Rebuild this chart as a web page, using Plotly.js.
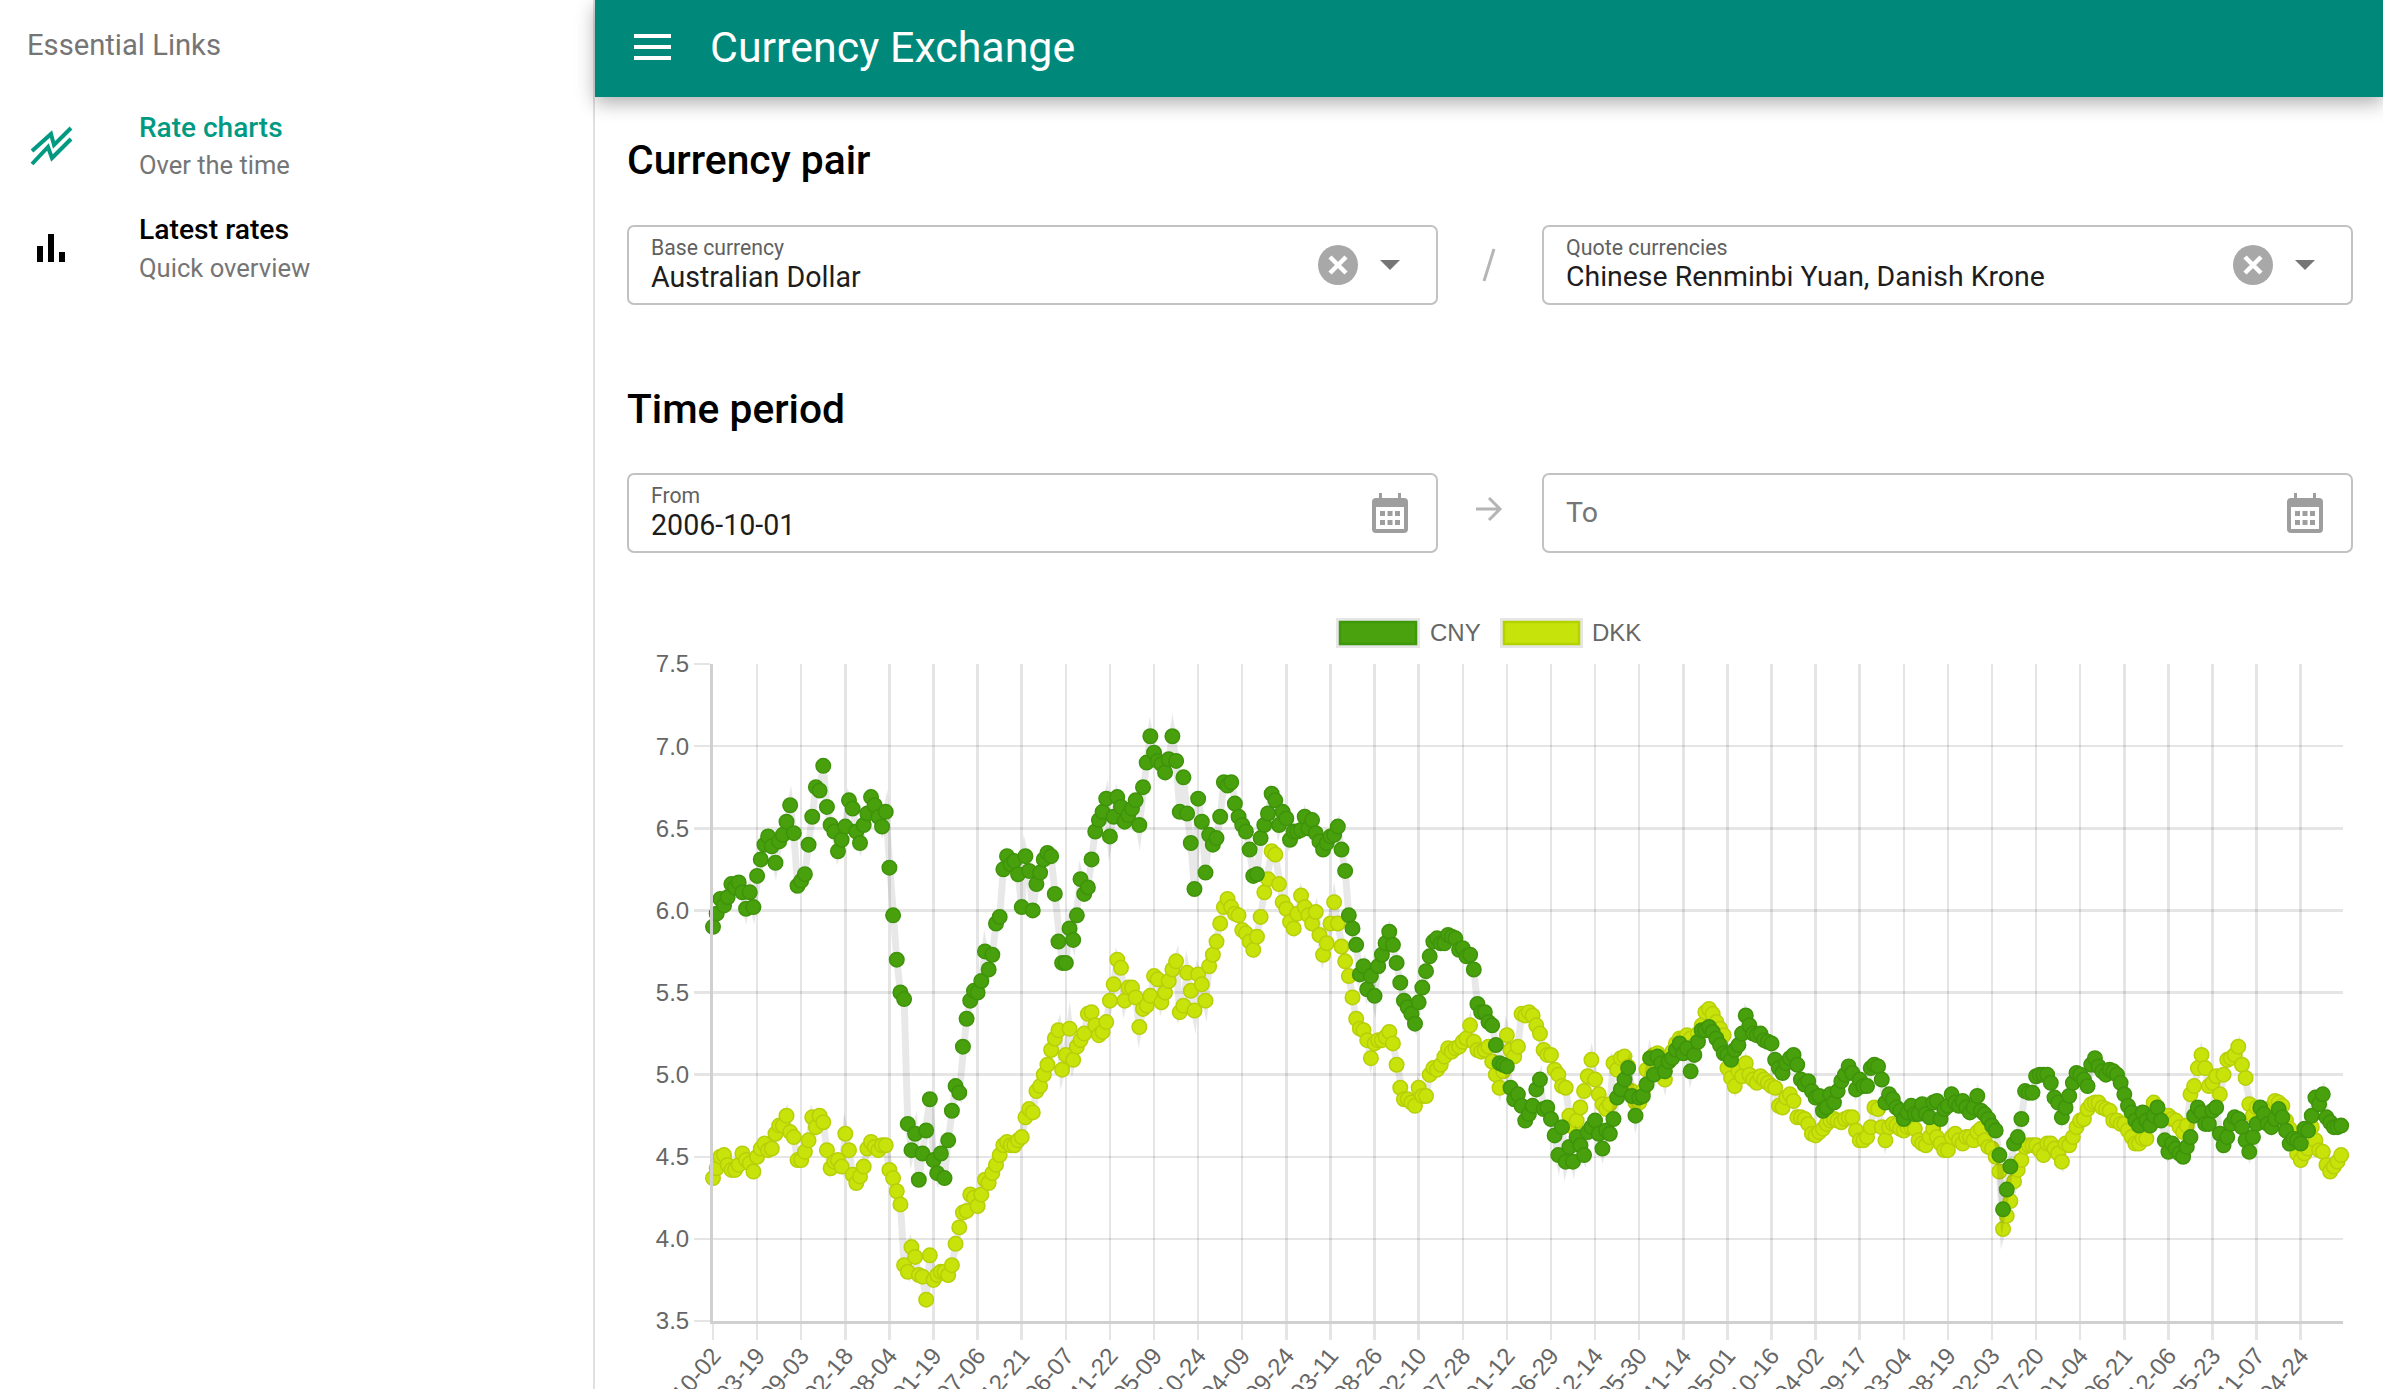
<!DOCTYPE html>
<html><head><meta charset="utf-8">
<script src="https://cdn.plot.ly/plotly-3.0.1.min.js"></script>
<style>
html,body{margin:0;padding:0;width:2383px;height:1389px;overflow:hidden;background:#fff;font-family:Roboto,sans-serif}
.t{position:absolute;white-space:nowrap;line-height:1;transform:translateY(-50%)}
.box{position:absolute;box-sizing:border-box;border:2.5px solid #c2c2c2;border-radius:7px;background:#fff}
svg.i{position:absolute;overflow:visible}
#chart{position:absolute;left:560px;top:600px;width:1823px;height:900px}
#chart .js-line{stroke-linejoin:miter !important;stroke-miterlimit:8}
</style></head><body>
<div style="position:absolute;left:593px;top:0;width:2px;height:1389px;background:#e0e0e0"></div>
<div id="chart"></div>
<div style="position:absolute;left:595px;top:0;width:1788px;height:97px;background:#00897b;box-shadow:0 6px 18px rgba(0,0,0,.32)"></div>
<svg class="i" style="left:634px;top:33px" width="38" height="28"><rect x="0" y="1" width="37" height="4" fill="#fff"/><rect x="0" y="12" width="37" height="4" fill="#fff"/><rect x="0" y="23" width="37" height="4" fill="#fff"/></svg>
<div class="t" style="left:710px;top:47px;font-size:42.9px;color:#fff">Currency Exchange</div>
<div class="t" style="left:27px;top:46px;font-size:29.2px;color:#757575">Essential Links</div>
<svg class="i" style="left:30px;top:126px" width="44" height="42"><path d="M2 25 L21 8 L24 19 L41 2 M2 38 L18 21 L22 32 L41 13" fill="none" stroke="#009a83" stroke-width="4"/></svg>
<div class="t" style="left:139px;top:128px;font-size:28px;font-weight:500;color:#009a83">Rate charts</div>
<div class="t" style="left:139px;top:166px;font-size:25.5px;color:#757575">Over the time</div>
<svg class="i" style="left:36px;top:234px" width="30" height="28"><rect x="1" y="12" width="6" height="16" fill="#000"/><rect x="12" y="0" width="6" height="28" fill="#000"/><rect x="23" y="18" width="6" height="10" fill="#000"/></svg>
<div class="t" style="left:139px;top:230px;font-size:28.3px;font-weight:500;color:#000">Latest rates</div>
<div class="t" style="left:139px;top:269px;font-size:25.6px;color:#757575">Quick overview</div>
<div class="t" style="left:627px;top:160px;font-size:40.8px;font-weight:500;color:#000">Currency pair</div>
<div class="t" style="left:627px;top:409px;font-size:40.7px;font-weight:500;color:#000">Time period</div>
<div class="box" style="left:627px;top:225px;width:811px;height:80px"></div>
<div class="box" style="left:1542px;top:225px;width:811px;height:80px"></div>
<div class="box" style="left:627px;top:473px;width:811px;height:80px"></div>
<div class="box" style="left:1542px;top:473px;width:811px;height:80px"></div>
<div class="t" style="left:651px;top:248px;font-size:21.2px;color:#616161">Base currency</div>
<div class="t" style="left:651px;top:277px;font-size:28.6px;color:#1d1d1d">Australian Dollar</div>
<div class="t" style="left:1566px;top:248px;font-size:21.4px;color:#616161">Quote currencies</div>
<div class="t" style="left:1566px;top:277px;font-size:28.45px;color:#1d1d1d">Chinese Renminbi Yuan, Danish Krone</div>
<div class="t" style="left:651px;top:496px;font-size:21.2px;color:#616161">From</div>
<div class="t" style="left:651px;top:525px;font-size:28.6px;color:#1d1d1d">2006-10-01</div>
<div class="t" style="left:1566px;top:513px;font-size:28.5px;color:#757575">To</div>
<svg class="i" style="left:1318px;top:245px" width="40" height="40"><circle cx="20" cy="20" r="20" fill="#a8a8a8"/><path d="M12 12 L28 28 M28 12 L12 28" stroke="#fff" stroke-width="4.5"/></svg>
<svg class="i" style="left:2233px;top:245px" width="40" height="40"><circle cx="20" cy="20" r="20" fill="#a8a8a8"/><path d="M12 12 L28 28 M28 12 L12 28" stroke="#fff" stroke-width="4.5"/></svg>
<svg class="i" style="left:1380px;top:260px" width="20" height="10"><path d="M0 0 H20 L10 10 Z" fill="#757575"/></svg>
<svg class="i" style="left:2295px;top:260px" width="20" height="10"><path d="M0 0 H20 L10 10 Z" fill="#757575"/></svg>
<svg class="i" style="left:1480px;top:248px" width="18" height="34"><path d="M14 1 L4 33" stroke="#b5b5b5" stroke-width="3"/></svg>
<svg class="i" style="left:1475px;top:496px" width="28" height="26"><path d="M1 13 H25 M14 2 L25 13 L14 24" fill="none" stroke="#b5b5b5" stroke-width="3"/></svg>
<svg class="i" style="left:1372px;top:493px" width="36" height="40"><path d="M7 0 h3 v5 h16 v-5 h3 v5 h3 a4 4 0 0 1 4 4 v27 a4 4 0 0 1 -4 4 h-28 a4 4 0 0 1 -4 -4 v-27 a4 4 0 0 1 4 -4 h3z" fill="#9e9e9e"/><rect x="4" y="14" width="28" height="22" fill="#fff"/><g fill="#9e9e9e"><rect x="8" y="18" width="5" height="5"/><rect x="15.5" y="18" width="5" height="5"/><rect x="23" y="18" width="5" height="5"/><rect x="8" y="27" width="5" height="5"/><rect x="15.5" y="27" width="5" height="5"/><rect x="23" y="27" width="5" height="5"/></g></svg>
<svg class="i" style="left:2287px;top:493px" width="36" height="40"><path d="M7 0 h3 v5 h16 v-5 h3 v5 h3 a4 4 0 0 1 4 4 v27 a4 4 0 0 1 -4 4 h-28 a4 4 0 0 1 -4 -4 v-27 a4 4 0 0 1 4 -4 h3z" fill="#9e9e9e"/><rect x="4" y="14" width="28" height="22" fill="#fff"/><g fill="#9e9e9e"><rect x="8" y="18" width="5" height="5"/><rect x="15.5" y="18" width="5" height="5"/><rect x="23" y="18" width="5" height="5"/><rect x="8" y="27" width="5" height="5"/><rect x="15.5" y="27" width="5" height="5"/><rect x="23" y="27" width="5" height="5"/></g></svg>
<script>
const tickDates = ["2006-10-02","2007-03-19","2007-09-03","2008-02-18","2008-08-04","2009-01-19","2009-07-06","2009-12-21","2010-06-07","2010-11-22","2011-05-09","2011-10-24","2012-04-09","2012-09-24","2013-03-11","2013-08-26","2014-02-10","2014-07-28","2015-01-12","2015-06-29","2015-12-14","2016-05-30","2016-11-14","2017-05-01","2017-10-16","2018-04-02","2018-09-17","2019-03-04","2019-08-19","2020-02-03","2020-07-20","2021-01-04","2021-06-21","2021-12-06","2022-05-23","2022-11-07","2023-04-24"];
const yTicks = [3.5,4.0,4.5,5.0,5.5,6.0,6.5,7.0,7.5];
const firstDate = "2006-10-02";
const lastDate = "2023-10-02";
const seriesNames = ["CNY","DKK"];
const cnyValues = [
5.90,5.98,6.07,6.03,6.08,6.16,6.14,6.17,6.11,6.01,6.11,6.02,
6.21,6.31,6.40,6.45,6.39,6.29,6.42,6.46,6.54,6.64,6.47,6.15,
6.18,6.22,6.40,6.57,6.75,6.73,6.88,6.63,6.52,6.48,6.36,6.43,
6.51,6.67,6.62,6.48,6.41,6.52,6.59,6.69,6.64,6.57,6.51,6.60,
6.26,5.97,5.70,5.50,5.46,4.70,4.54,4.64,4.36,4.52,4.66,4.85,
4.48,4.40,4.52,4.37,4.60,4.78,4.93,4.89,5.17,5.34,5.45,5.51,
5.50,5.57,5.75,5.64,5.73,5.92,5.96,6.25,6.33,6.28,6.30,6.22,
6.02,6.33,6.24,6.00,6.16,6.23,6.31,6.35,6.33,6.10,5.81,5.68,
5.68,5.89,5.82,5.97,6.19,6.10,6.14,6.31,6.48,6.55,6.60,6.68,
6.45,6.57,6.69,6.63,6.54,6.58,6.62,6.67,6.52,6.75,6.90,7.06,
6.96,6.91,6.89,6.84,6.92,7.06,6.91,6.60,6.81,6.59,6.41,6.13,
6.68,6.54,6.23,6.46,6.40,6.44,6.57,6.78,6.76,6.78,6.65,6.57,
6.52,6.48,6.37,6.21,6.22,6.44,6.52,6.59,6.71,6.67,6.52,6.60,
6.56,6.43,6.48,6.48,6.49,6.57,6.50,6.55,6.47,6.42,6.37,6.41,
6.45,6.46,6.51,6.37,6.24,5.97,5.89,5.79,5.61,5.66,5.52,5.60,
5.48,5.66,5.73,5.80,5.87,5.79,5.68,5.56,5.45,5.41,5.37,5.31,
5.44,5.53,5.63,5.72,5.81,5.83,5.80,5.80,5.85,5.84,5.83,5.76,
5.77,5.72,5.73,5.64,5.43,5.38,5.38,5.32,5.30,5.18,5.07,5.06,
5.05,4.92,4.85,4.88,4.81,4.72,4.76,4.81,4.91,4.97,4.79,4.80,
4.73,4.63,4.51,4.68,4.47,4.56,4.47,4.62,4.57,4.51,4.65,4.68,
4.72,4.64,4.55,4.66,4.64,4.73,4.86,4.91,4.97,5.04,4.87,4.75,
4.86,4.87,4.94,5.10,5.00,5.11,5.07,5.02,5.08,5.10,5.15,5.19,
5.13,5.16,5.02,5.12,5.20,5.27,5.27,5.29,5.26,5.22,5.18,5.13,
5.12,5.09,5.15,5.18,5.25,5.36,5.30,5.25,5.24,5.25,5.21,5.20,
5.19,5.09,5.04,5.01,5.07,5.10,5.12,5.06,4.97,4.94,4.96,4.90,
4.86,4.87,4.78,4.80,4.88,4.83,4.90,4.96,5.00,5.05,5.01,4.91,
4.97,4.93,4.93,5.04,5.06,5.05,4.97,4.83,4.88,4.85,4.80,4.78,
4.73,4.77,4.81,4.76,4.76,4.82,4.76,4.74,4.83,4.84,4.73,4.79,
4.81,4.88,4.83,4.81,4.84,4.80,4.77,4.80,4.87,4.78,4.76,4.73,
4.69,4.66,4.51,4.18,4.30,4.44,4.58,4.62,4.73,4.90,4.89,4.89,
4.99,5.00,5.00,5.00,4.95,4.86,4.83,4.74,4.80,4.87,4.95,5.01,
5.00,4.97,4.93,5.06,5.10,5.05,5.02,5.00,5.03,5.02,5.00,4.95,
4.88,4.81,4.77,4.72,4.69,4.77,4.72,4.69,4.75,4.80,4.72,4.60,
4.53,4.58,4.55,4.52,4.50,4.56,4.62,4.75,4.80,4.77,4.70,4.70,
4.78,4.80,4.64,4.57,4.62,4.70,4.74,4.73,4.68,4.60,4.53,4.62,
4.70,4.80,4.76,4.70,4.68,4.73,4.79,4.74,4.66,4.58,4.61,4.60,
4.58,4.67,4.66,4.75,4.86,4.82,4.88,4.74,4.71,4.68,4.68,4.69];
const dkkValues = [
4.37,4.43,4.50,4.51,4.45,4.42,4.42,4.45,4.52,4.48,4.46,4.41,
4.50,4.55,4.58,4.54,4.55,4.64,4.69,4.69,4.75,4.65,4.62,4.48,
4.48,4.53,4.60,4.74,4.68,4.75,4.71,4.54,4.43,4.47,4.48,4.44,
4.64,4.54,4.39,4.34,4.38,4.44,4.55,4.59,4.56,4.54,4.57,4.57,
4.42,4.37,4.29,4.21,3.84,3.80,3.95,3.89,3.78,3.77,3.63,3.90,
3.75,3.78,3.80,3.80,3.78,3.84,3.97,4.07,4.16,4.17,4.27,4.25,
4.20,4.27,4.36,4.34,4.40,4.45,4.51,4.57,4.59,4.57,4.57,4.60,
4.62,4.74,4.79,4.77,4.90,4.93,5.00,5.06,5.15,5.22,5.27,5.03,
5.12,5.28,5.09,5.17,5.21,5.25,5.37,5.38,5.30,5.24,5.26,5.32,
5.45,5.55,5.70,5.65,5.45,5.53,5.53,5.47,5.29,5.40,5.42,5.48,
5.60,5.58,5.44,5.50,5.57,5.64,5.69,5.38,5.42,5.62,5.51,5.39,
5.61,5.55,5.45,5.66,5.73,5.81,5.92,6.02,6.07,6.02,5.98,5.97,
5.88,5.86,5.81,5.76,5.84,5.96,6.11,6.19,6.36,6.34,6.16,6.05,
6.01,5.93,5.89,5.98,6.09,6.02,5.97,5.92,5.99,5.85,5.73,5.80,
5.92,6.05,5.92,5.78,5.69,5.60,5.47,5.34,5.28,5.27,5.21,5.10,
5.19,5.21,5.21,5.23,5.26,5.19,5.06,4.92,4.85,4.85,4.83,4.81,
4.92,4.87,4.87,5.00,5.04,5.03,5.06,5.11,5.16,5.14,5.16,5.17,
5.20,5.22,5.30,5.20,5.15,5.14,5.15,5.17,5.08,5.00,4.92,5.02,
5.24,5.15,5.11,5.17,5.37,5.36,5.38,5.36,5.30,5.25,5.15,5.12,
5.12,5.03,5.00,4.93,4.92,4.75,4.68,4.72,4.80,4.90,4.99,5.09,
4.97,4.88,4.82,4.79,4.82,5.07,5.03,5.10,5.11,5.05,4.90,4.83,
4.83,4.90,5.03,5.10,5.12,5.13,5.07,4.97,5.08,5.14,5.19,5.22,
5.22,5.24,5.22,5.18,5.25,5.30,5.38,5.40,5.37,5.32,5.28,5.24,
5.04,4.98,4.93,5.02,4.99,5.07,5.00,4.97,4.95,4.99,4.97,4.95,
4.93,4.92,4.81,4.80,4.86,4.88,4.84,4.74,4.74,4.73,4.70,4.64,
4.63,4.65,4.67,4.70,4.72,4.73,4.72,4.71,4.73,4.74,4.74,4.66,
4.60,4.60,4.62,4.68,4.80,4.79,4.68,4.60,4.68,4.70,4.69,4.67,
4.66,4.68,4.68,4.67,4.60,4.58,4.57,4.62,4.67,4.62,4.58,4.54,
4.54,4.62,4.64,4.60,4.58,4.62,4.62,4.60,4.65,4.67,4.60,4.56,
4.55,4.50,4.41,4.06,4.14,4.23,4.35,4.42,4.48,4.56,4.57,4.57,
4.57,4.54,4.51,4.58,4.58,4.55,4.52,4.47,4.58,4.57,4.62,4.68,
4.72,4.73,4.79,4.82,4.83,4.83,4.80,4.79,4.78,4.72,4.72,4.70,
4.70,4.66,4.62,4.58,4.58,4.61,4.61,4.70,4.83,4.80,4.76,4.75,
4.75,4.73,4.72,4.68,4.65,4.69,4.88,4.93,5.04,5.12,5.04,4.93,
4.95,4.99,4.88,5.00,5.09,5.10,5.12,5.17,5.06,4.98,4.82,4.75,
4.80,4.79,4.76,4.77,4.80,4.84,4.83,4.81,4.72,4.67,4.59,4.52,
4.48,4.52,4.55,4.68,4.60,4.54,4.53,4.45,4.41,4.44,4.47,4.51];

// the series are sampled every second Monday from the first date
const DAY = 86400000, start = Date.parse(firstDate+"T00:00:00Z");
const xDates = cnyValues.map((_, i) => new Date(start + i*14*DAY).toISOString().slice(0,10));

// plot frame in page pixels
const LEFT=560, TOP=600, W=1823, H=900, L=153, R=40, T=64, B=179;
const pw=W-L-R, ph=H-T-B;
const px = v => (v-(LEFT+L))/pw, py = v => 1-(v-(TOP+T))/ph;

function series(name, y, fill, edge){
  return {type:"scatter", mode:"lines+markers", name, x:xDates, y, cliponaxis:false,
    line:{color:"rgba(0,0,0,0.09)",width:7,shape:"linear"},
    marker:{size:14.5,color:fill,line:{color:edge,width:1.5}}, showlegend:false, hoverinfo:"x+y"};
}
const data=[series(seriesNames[1],dkkValues,"#c8e30a","#b6cf08"),
            series(seriesNames[0],cnyValues,"#47a00c","#3f930b")];
function legendBox(x0,x1,fill,edge){
  return [
   {type:"rect",xref:"paper",yref:"paper",x0:px(x0),x1:px(x1),y0:py(648),y1:py(618),fillcolor:"#e6e6e6",line:{width:0},layer:"above"},
   {type:"rect",xref:"paper",yref:"paper",x0:px(x0+4),x1:px(x1-4),y0:py(644),y1:py(622),fillcolor:fill,line:{color:edge,width:2.5},layer:"above"}];
}
const axisCommon={ticks:"outside",ticklen:16,tickwidth:2.5,tickcolor:"rgba(0,0,0,0.1)",
    showgrid:true,gridcolor:"rgba(0,0,0,0.1)",gridwidth:2.5,showline:true,linecolor:"#d0d0d0",linewidth:3,zeroline:false,
    tickfont:{size:24,color:"#666"},automargin:false};
const layout={
  width:W,height:H,margin:{l:L,r:R,t:T,b:B,autoexpand:false},
  paper_bgcolor:"rgba(0,0,0,0)",plot_bgcolor:"rgba(0,0,0,0)",showlegend:false,
  font:{family:'"Liberation Sans",Arial,sans-serif',size:24,color:"#666"},
  xaxis:{...axisCommon,type:"date",range:[firstDate,lastDate],tickmode:"array",tickvals:tickDates,ticktext:tickDates,
    tickangle:-50,ticklabeloverflow:"allow",ticklabelstandoff:-8},
  yaxis:{...axisCommon,range:[3.5,7.5],tickmode:"array",tickvals:yTicks,ticktext:yTicks.map(v=>v.toFixed(1))},
  shapes:[...legendBox(1336,1420,"#4aa30e","#3f980b"),...legendBox(1500,1583,"#c6e40c","#b5d100")],
  annotations:[
   {xref:"paper",yref:"paper",x:px(1428),y:py(632),xanchor:"left",yanchor:"middle",showarrow:false,text:seriesNames[0],font:{size:24,color:"#666"}},
   {xref:"paper",yref:"paper",x:px(1590),y:py(632),xanchor:"left",yanchor:"middle",showarrow:false,text:seriesNames[1],font:{size:24,color:"#666"}}]
};
Plotly.newPlot("chart",data,layout,{displayModeBar:false,staticPlot:true});
</script>
</body></html>
